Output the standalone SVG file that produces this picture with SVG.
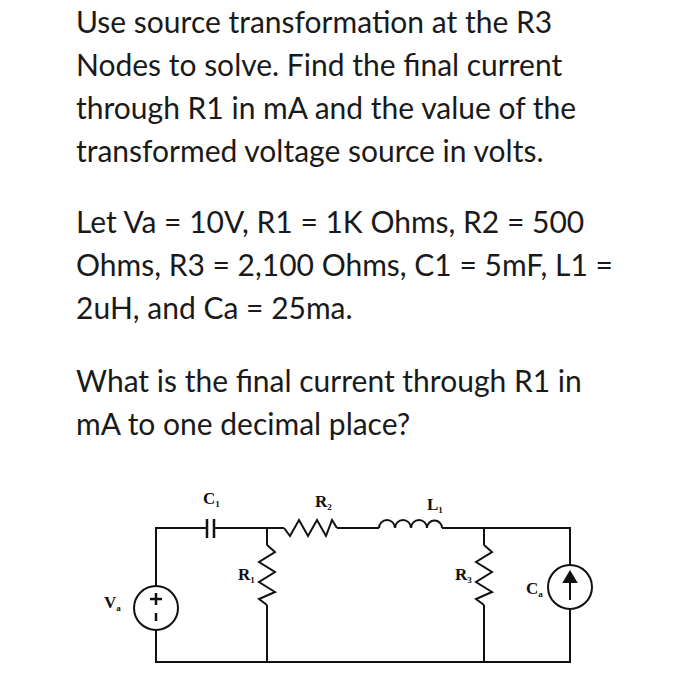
<svg xmlns="http://www.w3.org/2000/svg" width="683" height="700" viewBox="0 0 683 700">
<style>
.t{font-family:Lato,"Open Sans",sans-serif;font-size:30px;fill:#1a1a1a}
.w{fill:none;stroke:#111;stroke-width:2}
.l{font-family:"Liberation Serif",serif;font-weight:bold;font-size:17px;fill:#111}
.s{font-size:9px}
</style>
<rect width="683" height="700" fill="#fff"/>
<g class="t">
<text x="76" y="33">Use source transformation at the R3</text>
<text x="76" y="76">Nodes to solve.  Find the final current</text>
<text x="76" y="119">through R1 in mA  and the value of the</text>
<text x="76" y="162">transformed voltage source in volts.</text>
<text x="76" y="233">Let Va = 10V, R1 = 1K Ohms, R2 = 500</text>
<text x="76" y="276">Ohms, R3 = 2,100 Ohms, C1 = 5mF, L1 =</text>
<text x="76" y="319">2uH, and Ca = 25ma.</text>
<text x="76" y="392">What is the final current through R1 in</text>
<text x="76" y="435">mA to one decimal place?</text>
</g>
<g id="wires" class="w">
<path d="M156 586 V528 H207 M214 528 H284 M337 528 H379 M442 528 H570 V565 M570 609 V662 H156 V630"/>
<path d="M267 528 V545 M267 605 V662 M484 528 V545 M484 605 V662"/>
</g>
<g id="C1" class="w"><path d="M207 519 V538 M214 519 V538" stroke-width="2.5"/></g>
<g id="R2" class="w"><path d="M284 528 L290 536 L299 520 L308 536 L317 520 L326 536 L332 520 L337 528"/></g>
<g id="L1" class="w"><path d="M379 528 a8 8 0 0 1 16 0 a8 8 0 0 1 16 0 a8 8 0 0 1 16 0 a7.5 7.5 0 0 1 15 0"/></g>
<g id="R1" class="w"><path d="M267 545 L275 552 L259 562 L275 572 L259 582 L275 592 L259 599 L267 605"/></g>
<g id="R3" class="w"><path d="M484 545 L492 552 L476 562 L492 572 L476 582 L492 592 L476 599 L484 605"/></g>
<g id="Va" class="w"><circle cx="156" cy="608" r="22"/><path d="M150 599 H162 M156 593 V605 M156 613 V621" stroke-width="2.5"/></g>
<g id="Ca" class="w"><circle cx="570" cy="587" r="22"/><path d="M570 600 V577"/><path d="M564 582 L570 572 L576 582 Z" fill="#111"/></g>
<g>
<text class="l" x="203" y="504">C<tspan class="s" dy="3">1</tspan></text>
<text class="l" x="315" y="507">R<tspan class="s" dy="3">2</tspan></text>
<text class="l" x="427" y="510">L<tspan class="s" dy="3">1</tspan></text>
<text class="l" x="238" y="580">R<tspan class="s" dy="3">1</tspan></text>
<text class="l" x="455" y="580">R<tspan class="s" dy="3">3</tspan></text>
<text class="l" x="104" y="608">V<tspan class="s" dy="3">a</tspan></text>
<text class="l" x="526" y="594">C<tspan class="s" dy="3">a</tspan></text>
</g>
</svg>
